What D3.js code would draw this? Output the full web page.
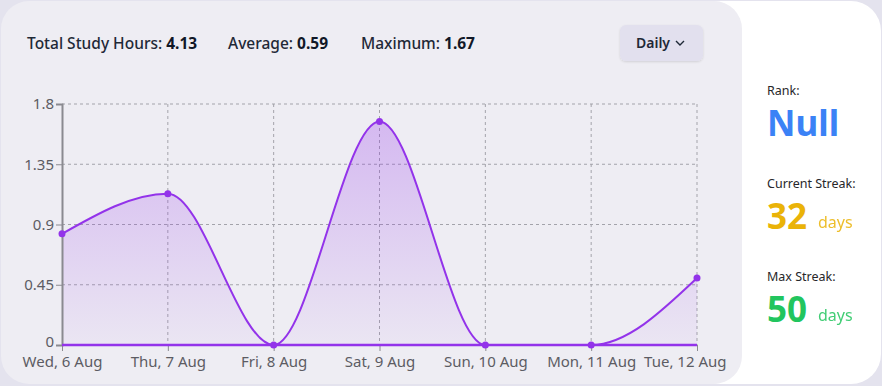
<!DOCTYPE html>
<html>
<head>
<meta charset="utf-8">
<script src="https://cdn.jsdelivr.net/npm/d3@7"></script>
<style>
  body { margin: 0; background: #e4e3ee; }
  svg { display: block; font-family: "Noto Sans", sans-serif; }
</style>
</head>
<body>
<div id="chart"></div>
<script>
// study hours per day
const days = ["Wed, 6 Aug", "Thu, 7 Aug", "Fri, 8 Aug", "Sat, 9 Aug", "Sun, 10 Aug", "Mon, 11 Aug", "Tue, 12 Aug"];
const hours = [0.83, 1.13, 0, 1.67, 0, 0, 0.50];
const yTicks = [0, 0.45, 0.9, 1.35, 1.8];
const summary = [
    { label: "Total Study Hours: ", value: "4.13", x: 27 },
    { label: "Average: ", value: "0.59", x: 228 },
    { label: "Maximum: ", value: "1.67", x: 361 }
];
const stats = [
    { label: "Rank:", value: "Null", unit: "", color: "#3b82f6", y: 95 },
    { label: "Current Streak:", value: "32", unit: "days", color: "#eab308", y: 188 },
    { label: "Max Streak:", value: "50", unit: "days", color: "#22c55e", y: 281 }
];

const width = 882, height = 386;
const plot = { left: 62, right: 697, top: 104, bottom: 345 };
const purple = "#9333ea";

const svg = d3.select("#chart").append("svg")
    .attr("width", width)
    .attr("height", height);

const defs = svg.append("defs");
const grad = defs.append("linearGradient")
    .attr("id", "areaFill")
    .attr("x1", 0).attr("x2", 0)
    .attr("gradientUnits", "userSpaceOnUse")
    .attr("y1", plot.top).attr("y2", plot.bottom);
grad.append("stop").attr("offset", 0).attr("stop-color", purple).attr("stop-opacity", 0.3);
grad.append("stop").attr("offset", 1).attr("stop-color", purple).attr("stop-opacity", 0.04);

const shadow = defs.append("filter").attr("id", "btnShadow")
    .attr("x", -0.2).attr("y", -0.3).attr("width", 1.4).attr("height", 1.6);
shadow.append("feDropShadow").attr("dx", 0).attr("dy", 1).attr("stdDeviation", 1.2)
    .attr("flood-color", "#000").attr("flood-opacity", 0.12);

//CARDS
svg.append("rect")
    .attr("x", 690).attr("y", 1).attr("width", 191).attr("height", 383)
    .attr("rx", 30).style("fill", "#ffffff");
svg.append("rect")
    .attr("x", 1).attr("y", 1).attr("width", 741).attr("height", 383)
    .attr("rx", 28).style("fill", "#eeedf3");

//header summary
const head = svg.append("g").selectAll("text")
    .data(summary)
    .enter().append("text")
    .attr("x", d => d.x)
    .attr("y", 49)
    .style("font-size", "15.5px")
    .style("font-weight", 500)
    .style("fill", "#1f2937");
head.append("tspan").text(d => d.label);
head.append("tspan").text(d => d.value).style("font-weight", "bold").style("fill", "#111827");

//Daily button
const btn = svg.append("g").attr("transform", "translate(620,25)");
btn.append("rect")
    .attr("width", 83).attr("height", 36).attr("rx", 6)
    .style("fill", "#e2e0ee")
    .attr("filter", "url(#btnShadow)");
btn.append("text")
    .attr("x", 16).attr("y", 23)
    .style("font-size", "14px").style("font-weight", 600)
    .style("fill", "#1f2937")
    .text("Daily");
btn.append("path")
    .attr("d", "M56,16 L60,20 L64,16")
    .style("fill", "none").style("stroke", "#1f2937").style("stroke-width", 1.4);

//scales
const x = d3.scalePoint().domain(days).range([plot.left, plot.right]);
const y = d3.scaleLinear().domain([0, 1.8]).range([plot.bottom, plot.top]);

const bounds = svg.append("g");

//grid
bounds.append("g").selectAll("line")
    .data(yTicks.filter(d => d > 0))
    .enter().append("line")
    .attr("x1", plot.left).attr("x2", plot.right)
    .attr("y1", d => y(d)).attr("y2", d => y(d))
    .style("stroke", "#a3a3aa").style("stroke-dasharray", "3,3");
bounds.append("g").selectAll("line")
    .data(days.slice(1))
    .enter().append("line")
    .attr("x1", d => x(d)).attr("x2", d => x(d))
    .attr("y1", plot.top).attr("y2", plot.bottom)
    .style("stroke", "#a3a3aa").style("stroke-dasharray", "3,3");

//area + line
const area = d3.area()
    .x((d, i) => x(days[i]))
    .y0(y(0))
    .y1(d => y(d))
    .curve(d3.curveMonotoneX);
const line = d3.line()
    .x((d, i) => x(days[i]))
    .y(d => y(d))
    .curve(d3.curveMonotoneX);

bounds.append("path")
    .datum(hours)
    .attr("d", area)
    .style("fill", "url(#areaFill)");

//axes
const yAxis = bounds.append("g")
    .attr("transform", `translate(${plot.left},0)`)
    .call(d3.axisLeft(y).tickValues(yTicks).tickSize(6).tickPadding(2).tickFormat(d => d));
yAxis.select(".domain").style("stroke", "#8a8a90").style("stroke-width", 2);
yAxis.selectAll(".tick line").style("stroke", "#8a8a90");
yAxis.selectAll("text").style("font-size", "15px").style("fill", "#5c5c63")
    .style("font-family", "Noto Sans, sans-serif");
yAxis.selectAll(".tick").filter(d => d === 0).select("text").attr("dy", "0.1em");

const xAxis = bounds.append("g")
    .attr("transform", `translate(0,${plot.bottom})`)
    .call(d3.axisBottom(x).tickSize(6).tickPadding(1));
xAxis.select(".domain").remove();
xAxis.selectAll(".tick line").style("stroke", "#8a8a90");
xAxis.selectAll("text").style("font-size", "15px").style("fill", "#5c5c63")
    .style("font-family", "Noto Sans, sans-serif")
    .attr("dy", "1em");
//last label is pulled inside like the original
xAxis.selectAll(".tick").filter(d => d === days[days.length - 1]).select("text")
    .attr("text-anchor", "end").attr("x", 29);

//purple baseline
bounds.append("line")
    .attr("x1", plot.left).attr("x2", plot.right)
    .attr("y1", y(0)).attr("y2", y(0))
    .style("stroke", purple).style("stroke-width", 2.5);

bounds.append("path")
    .datum(hours)
    .attr("d", line)
    .style("fill", "none")
    .style("stroke", purple)
    .style("stroke-width", 2);

bounds.append("g").selectAll("circle")
    .data(hours)
    .enter().append("circle")
    .attr("cx", (d, i) => x(days[i]))
    .attr("cy", d => y(d))
    .attr("r", 3.5)
    .style("fill", purple);

//side stats
const side = svg.append("g").selectAll("g")
    .data(stats)
    .enter().append("g")
    .attr("transform", d => `translate(767,${d.y})`);
side.append("text")
    .text(d => d.label)
    .style("font-size", "12.5px")
    .style("fill", "#27272a");
side.append("text")
    .attr("y", 41)
    .text(d => d.value)
    .style("font-size", "35px")
    .style("font-weight", "bold")
    .style("fill", d => d.color);
side.append("text")
    .attr("x", 51).attr("y", 40)
    .text(d => d.unit)
    .style("font-size", "16px")
    .style("fill", d => d.color)
    .style("opacity", 0.85);
</script>
</body>
</html>
